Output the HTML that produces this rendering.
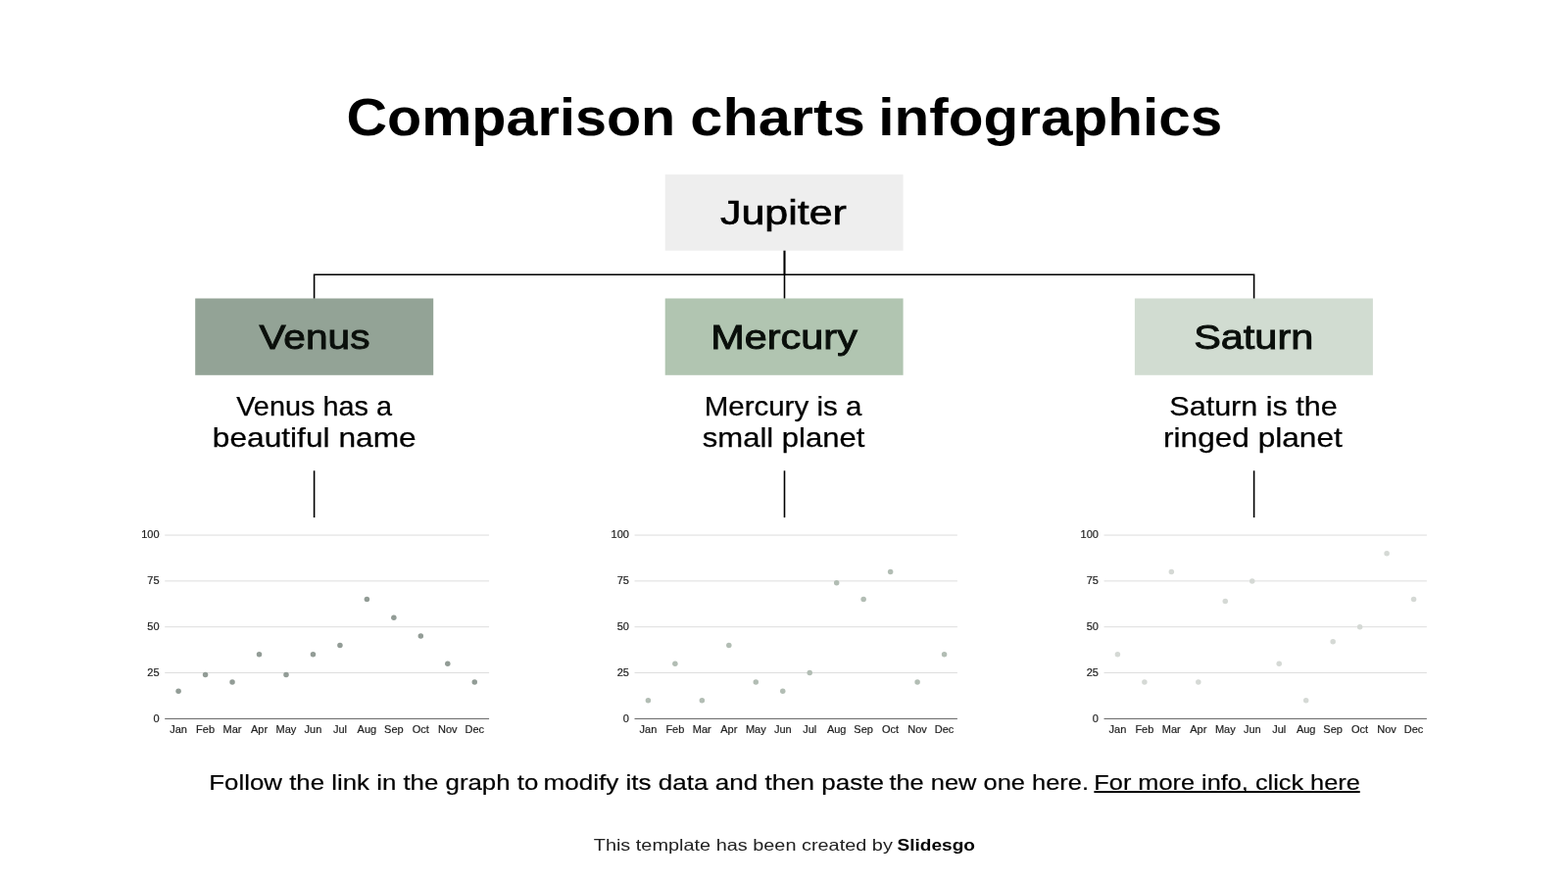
<!DOCTYPE html>
<html lang="en"><head><meta charset="utf-8"><title>Comparison charts infographics</title>
<style>
html,body{margin:0;padding:0;background:#fff;}
body{width:1600px;height:900px;position:relative;overflow:hidden;font-family:"Liberation Sans",sans-serif;color:#000;}
h1,p{margin:0;padding:0;font-size:inherit;font-weight:inherit;}
.t{position:absolute;left:0;top:0;display:block;white-space:nowrap;line-height:1;transform-origin:0 0;margin:0;}
.box{position:absolute;}
.yl{-webkit-text-stroke:0.2px #222;position:absolute;width:40px;text-align:right;font-size:11px;line-height:13px;color:#222222;}
.xl{-webkit-text-stroke:0.2px #222;position:absolute;width:40px;text-align:center;font-size:11px;line-height:13px;color:#222222;}
a{color:inherit;text-decoration:underline;text-decoration-thickness:1.5px;text-underline-offset:1.1px;text-decoration-skip-ink:none;}
</style></head><body>

<svg width="1600" height="900" viewBox="0 0 1600 900" style="position:absolute;left:0;top:0">
<rect x="678.7" y="178.1" width="242.9" height="77.6" fill="#eeeeee"/>
<rect x="199.2" y="304.5" width="243" height="78.3" fill="#93a396"/>
<rect x="678.7" y="304.5" width="242.9" height="78.3" fill="#b1c5b1"/>
<rect x="1157.9" y="304.5" width="243" height="78.3" fill="#d1dcd1"/>
<g stroke="#000" stroke-width="1.6" fill="none">
<path d="M800.5 280.3V304.6M320.6 304.6V280.3H1279.6V304.6"/><path d="M800.5 255.7V280.3" stroke-width="2.1"/>
<path d="M320.6 480.3V528.1"/>
<path d="M800.5 480.3V528.1"/>
<path d="M1279.6 480.3V528.1"/>
</g>
<g stroke="#dddddd" stroke-width="1">
<path d="M168.2 546.05H499.1"/>
<path d="M168.2 592.89H499.1"/>
<path d="M168.2 639.73H499.1"/>
<path d="M168.2 686.56H499.1"/>
</g>
<path d="M168.2 733.40H499.1" stroke="#606060" stroke-width="1"/>
<g fill="#929c96">
<circle cx="182.10" cy="705.30" r="2.75"/>
<circle cx="209.57" cy="688.44" r="2.75"/>
<circle cx="237.04" cy="695.93" r="2.75"/>
<circle cx="264.51" cy="667.83" r="2.75"/>
<circle cx="291.98" cy="688.44" r="2.75"/>
<circle cx="319.45" cy="667.83" r="2.75"/>
<circle cx="346.92" cy="658.46" r="2.75"/>
<circle cx="374.39" cy="611.62" r="2.75"/>
<circle cx="401.86" cy="630.36" r="2.75"/>
<circle cx="429.33" cy="649.09" r="2.75"/>
<circle cx="456.80" cy="677.19" r="2.75"/>
<circle cx="484.27" cy="695.93" r="2.75"/>
</g>
<g stroke="#dddddd" stroke-width="1">
<path d="M647.5 546.05H976.9"/>
<path d="M647.5 592.89H976.9"/>
<path d="M647.5 639.73H976.9"/>
<path d="M647.5 686.56H976.9"/>
</g>
<path d="M647.5 733.40H976.9" stroke="#606060" stroke-width="1"/>
<g fill="#b2bdb4">
<circle cx="661.40" cy="714.66" r="2.75"/>
<circle cx="688.87" cy="677.19" r="2.75"/>
<circle cx="716.34" cy="714.66" r="2.75"/>
<circle cx="743.81" cy="658.46" r="2.75"/>
<circle cx="771.28" cy="695.93" r="2.75"/>
<circle cx="798.75" cy="705.30" r="2.75"/>
<circle cx="826.22" cy="686.56" r="2.75"/>
<circle cx="853.69" cy="594.76" r="2.75"/>
<circle cx="881.16" cy="611.62" r="2.75"/>
<circle cx="908.63" cy="583.52" r="2.75"/>
<circle cx="936.10" cy="695.93" r="2.75"/>
<circle cx="963.57" cy="667.83" r="2.75"/>
</g>
<g stroke="#dddddd" stroke-width="1">
<path d="M1126.5 546.05H1455.9"/>
<path d="M1126.5 592.89H1455.9"/>
<path d="M1126.5 639.73H1455.9"/>
<path d="M1126.5 686.56H1455.9"/>
</g>
<path d="M1126.5 733.40H1455.9" stroke="#606060" stroke-width="1"/>
<g fill="#d5d9d5">
<circle cx="1140.40" cy="667.83" r="2.75"/>
<circle cx="1167.87" cy="695.93" r="2.75"/>
<circle cx="1195.34" cy="583.52" r="2.75"/>
<circle cx="1222.81" cy="695.93" r="2.75"/>
<circle cx="1250.28" cy="613.50" r="2.75"/>
<circle cx="1277.75" cy="592.89" r="2.75"/>
<circle cx="1305.22" cy="677.19" r="2.75"/>
<circle cx="1332.69" cy="714.66" r="2.75"/>
<circle cx="1360.16" cy="654.71" r="2.75"/>
<circle cx="1387.63" cy="639.73" r="2.75"/>
<circle cx="1415.10" cy="564.78" r="2.75"/>
<circle cx="1442.57" cy="611.62" r="2.75"/>
</g>
</svg>
<h1><span class="t" id="t1" style="font-size:54.3px;font-weight:700;transform:translate(353.50px,93.07px) scale(1.0598,1.0000);">Comparison</span> <span class="t" id="t2" style="font-size:54.3px;font-weight:700;transform:translate(704.33px,93.07px) scale(1.0957,1.0000);">charts</span> <span class="t" id="t3" style="font-size:54.3px;font-weight:700;transform:translate(896.26px,93.07px) scale(1.0773,1.0000);">infographics</span></h1>
<div class="t" id="jup" style="font-size:35.5px;font-weight:400;transform:translate(735.01px,200.09px) scale(1.2099,1.0000);-webkit-text-stroke:0.65px #000;">Jupiter</div>
<div class="t" id="ven" style="font-size:34.4px;font-weight:400;transform:translate(264.48px,326.87px) scale(1.1820,1.0000);-webkit-text-stroke:0.9px #0a0f0b;color:#0a0f0b;">Venus</div>
<div class="t" id="mer" style="font-size:34.4px;font-weight:400;transform:translate(725.28px,326.87px) scale(1.2044,1.0000);-webkit-text-stroke:0.9px #0a0f0b;color:#0a0f0b;">Mercury</div>
<div class="t" id="sat" style="font-size:34.4px;font-weight:400;transform:translate(1218.14px,326.87px) scale(1.2052,1.0000);-webkit-text-stroke:0.9px #0a0f0b;color:#0a0f0b;">Saturn</div>
<div class="t" id="v1" style="font-size:27.2px;font-weight:400;transform:translate(241.20px,400.97px) scale(1.0607,1.0000);-webkit-text-stroke:0.25px #000;">Venus has a</div>
<div class="t" id="v2" style="font-size:27.2px;font-weight:400;transform:translate(216.79px,432.97px) scale(1.1655,1.0000);-webkit-text-stroke:0.25px #000;">beautiful name</div>
<div class="t" id="m1" style="font-size:27.2px;font-weight:400;transform:translate(718.63px,400.97px) scale(1.0855,1.0000);-webkit-text-stroke:0.25px #000;">Mercury is a</div>
<div class="t" id="m2" style="font-size:27.2px;font-weight:400;transform:translate(716.79px,432.97px) scale(1.1415,1.0000);-webkit-text-stroke:0.25px #000;">small planet</div>
<div class="t" id="s1" style="font-size:27.2px;font-weight:400;transform:translate(1193.30px,400.97px) scale(1.1230,1.0000);-webkit-text-stroke:0.25px #000;">Saturn is the</div>
<div class="t" id="s2" style="font-size:27.2px;font-weight:400;transform:translate(1187.05px,432.97px) scale(1.1622,1.0000);-webkit-text-stroke:0.25px #000;">ringed planet</div>
<div class="yl" style="left:122.6px;top:539.45px">100</div>
<div class="yl" style="left:122.6px;top:586.29px">75</div>
<div class="yl" style="left:122.6px;top:633.12px">50</div>
<div class="yl" style="left:122.6px;top:679.96px">25</div>
<div class="yl" style="left:122.6px;top:726.80px">0</div>
<div class="xl" style="left:162.10px;top:737.9px">Jan</div>
<div class="xl" style="left:189.57px;top:737.9px">Feb</div>
<div class="xl" style="left:217.04px;top:737.9px">Mar</div>
<div class="xl" style="left:244.51px;top:737.9px">Apr</div>
<div class="xl" style="left:271.98px;top:737.9px">May</div>
<div class="xl" style="left:299.45px;top:737.9px">Jun</div>
<div class="xl" style="left:326.92px;top:737.9px">Jul</div>
<div class="xl" style="left:354.39px;top:737.9px">Aug</div>
<div class="xl" style="left:381.86px;top:737.9px">Sep</div>
<div class="xl" style="left:409.33px;top:737.9px">Oct</div>
<div class="xl" style="left:436.80px;top:737.9px">Nov</div>
<div class="xl" style="left:464.27px;top:737.9px">Dec</div>
<div class="yl" style="left:601.9px;top:539.45px">100</div>
<div class="yl" style="left:601.9px;top:586.29px">75</div>
<div class="yl" style="left:601.9px;top:633.12px">50</div>
<div class="yl" style="left:601.9px;top:679.96px">25</div>
<div class="yl" style="left:601.9px;top:726.80px">0</div>
<div class="xl" style="left:641.40px;top:737.9px">Jan</div>
<div class="xl" style="left:668.87px;top:737.9px">Feb</div>
<div class="xl" style="left:696.34px;top:737.9px">Mar</div>
<div class="xl" style="left:723.81px;top:737.9px">Apr</div>
<div class="xl" style="left:751.28px;top:737.9px">May</div>
<div class="xl" style="left:778.75px;top:737.9px">Jun</div>
<div class="xl" style="left:806.22px;top:737.9px">Jul</div>
<div class="xl" style="left:833.69px;top:737.9px">Aug</div>
<div class="xl" style="left:861.16px;top:737.9px">Sep</div>
<div class="xl" style="left:888.63px;top:737.9px">Oct</div>
<div class="xl" style="left:916.10px;top:737.9px">Nov</div>
<div class="xl" style="left:943.57px;top:737.9px">Dec</div>
<div class="yl" style="left:1080.9px;top:539.45px">100</div>
<div class="yl" style="left:1080.9px;top:586.29px">75</div>
<div class="yl" style="left:1080.9px;top:633.12px">50</div>
<div class="yl" style="left:1080.9px;top:679.96px">25</div>
<div class="yl" style="left:1080.9px;top:726.80px">0</div>
<div class="xl" style="left:1120.40px;top:737.9px">Jan</div>
<div class="xl" style="left:1147.87px;top:737.9px">Feb</div>
<div class="xl" style="left:1175.34px;top:737.9px">Mar</div>
<div class="xl" style="left:1202.81px;top:737.9px">Apr</div>
<div class="xl" style="left:1230.28px;top:737.9px">May</div>
<div class="xl" style="left:1257.75px;top:737.9px">Jun</div>
<div class="xl" style="left:1285.22px;top:737.9px">Jul</div>
<div class="xl" style="left:1312.69px;top:737.9px">Aug</div>
<div class="xl" style="left:1340.16px;top:737.9px">Sep</div>
<div class="xl" style="left:1367.63px;top:737.9px">Oct</div>
<div class="xl" style="left:1395.10px;top:737.9px">Nov</div>
<div class="xl" style="left:1422.57px;top:737.9px">Dec</div>
<p><span class="t" id="f1a" style="font-size:22.8px;font-weight:400;transform:translate(213.30px,787.08px) scale(1.1332,1.0000);-webkit-text-stroke:0.2px #000;">Follow the link in the graph to</span> <span class="t" id="f1b" style="font-size:22.8px;font-weight:400;transform:translate(554.54px,787.08px) scale(1.1426,1.0000);-webkit-text-stroke:0.2px #000;">modify its data and then paste</span> <span class="t" id="f1c" style="font-size:22.8px;font-weight:400;transform:translate(907.40px,787.08px) scale(1.1154,1.0000);-webkit-text-stroke:0.2px #000;">the new one here.</span> <a class="t" id="f1d" style="font-size:22.8px;font-weight:400;transform:translate(1116.37px,787.08px) scale(1.1099,1.0000);-webkit-text-stroke:0.2px #000;">For more info, click here</a></p>
<p><span class="t" id="f2a" style="font-size:16.5px;font-weight:400;transform:translate(605.74px,854.02px) scale(1.2052,1.0000);color:#222;">This template has been created by</span> <b class="t" id="f2b" style="font-size:17.0px;font-weight:700;transform:translate(915.46px,854.02px) scale(1.1216,1.0000);">Slidesgo</b></p>
</body></html>
